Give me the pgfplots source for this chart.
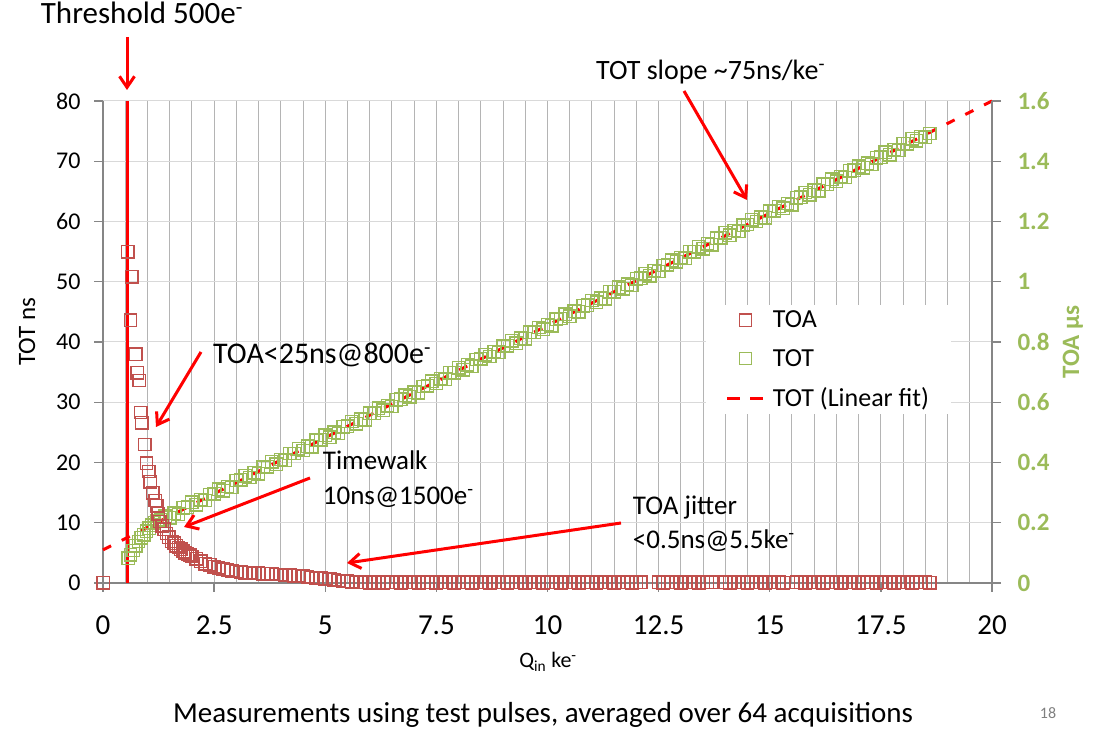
\documentclass[border=0pt]{standalone}
\usepackage{fontspec}
\setmainfont{Carlito}
\usepackage{pgfplots}
\usepackage{pgfplotstable}
\pgfplotsset{compat=1.18}
\usetikzlibrary{arrows.meta}

\definecolor{toared}{HTML}{C0504D}
\definecolor{totgreen}{HTML}{9BBB59}
\definecolor{axgray}{HTML}{868686}
\definecolor{vgrid}{HTML}{B4B4B4}
\definecolor{hgrid}{HTML}{D9D9D9}
\definecolor{fitred}{HTML}{FF0000}
\newcommand{\fs}[2]{\fontsize{#1}{#2}\selectfont}

% TOT in ns (left axis)
\pgfplotstableread{
x y
0 0
0.57 4.1
0.62 4.7
0.68 5.4
0.74 6.2
0.80 6.9
0.86 7.5
0.92 8.0
0.98 8.6
1.04 9.1
1.10 9.6
1.16 10.0
1.22 10.3
1.30 10.5
1.4 11.1
1.5 10.8
1.6 11.6
1.7 11.4
1.8 12.5
1.9 12.6
2.0 13.4
2.1 13.0
2.2 13.8
2.3 13.7
2.4 14.7
2.5 14.8
2.6 15.6
2.7 15.3
2.8 16.0
2.9 15.9
3.0 17.0
3.1 17.1
3.2 17.8
3.3 17.5
3.4 18.3
3.5 18.1
3.6 19.2
3.7 19.3
3.8 20.1
3.9 19.7
4.0 20.5
4.1 20.4
4.2 21.5
4.3 21.5
4.4 22.3
4.5 22.0
4.6 22.7
4.7 22.6
4.8 23.7
4.9 23.8
5.0 24.5
5.1 24.2
5.2 25.0
5.3 24.8
5.4 25.9
5.5 26.0
5.6 26.8
5.7 26.4
5.8 27.2
5.9 27.1
6.0 28.2
6.1 28.2
6.2 29.0
6.3 28.7
6.4 29.4
6.5 29.3
6.6 30.4
6.7 30.5
6.8 31.2
6.9 30.9
7.0 31.7
7.1 31.6
7.2 32.6
7.3 32.7
7.4 33.5
7.5 33.1
7.6 33.9
7.7 33.8
7.8 34.9
7.9 34.9
8.0 35.7
8.1 35.4
8.2 36.2
8.3 36.0
8.4 37.1
8.5 37.2
8.6 37.9
8.7 37.6
8.8 38.4
8.9 38.3
9.0 39.3
9.1 39.4
9.2 40.2
9.3 39.8
9.4 40.6
9.5 40.5
9.6 41.6
9.7 41.6
9.8 42.4
9.9 42.1
10.0 42.9
10.1 42.7
10.2 43.8
10.3 43.9
10.4 44.6
10.5 44.3
10.6 45.1
10.7 45.0
10.8 46.0
10.9 46.1
11.0 46.9
11.1 46.6
11.2 47.3
11.3 47.2
11.4 48.3
11.5 48.3
11.6 49.1
11.7 48.8
11.8 49.6
11.9 49.4
12.0 50.5
12.1 50.6
12.2 51.3
12.3 51.0
12.4 51.8
12.5 51.7
12.6 52.7
12.7 52.8
12.8 53.6
12.9 53.3
13.0 54.0
13.1 53.9
13.2 55.0
13.3 55.0
13.4 55.8
13.5 55.5
13.6 56.3
13.7 56.1
13.8 57.2
13.9 57.3
14.0 58.1
14.1 57.7
14.2 58.5
14.3 58.4
14.4 59.4
14.5 59.5
14.6 60.3
14.7 60.0
14.8 60.7
14.9 60.6
15.0 61.7
15.1 61.8
15.2 62.5
15.3 62.2
15.4 63.0
15.5 62.8
15.6 63.9
15.7 64.0
15.8 64.8
15.9 64.4
16.0 65.2
16.1 65.1
16.2 66.2
16.3 66.2
16.4 67.0
16.5 66.7
16.6 67.4
16.7 67.3
16.8 68.4
16.9 68.5
17.0 69.2
17.1 68.9
17.2 69.7
17.3 69.5
17.4 70.6
17.5 70.7
17.6 71.5
17.7 71.1
17.8 71.9
17.9 71.8
18.0 72.9
18.1 72.9
18.2 73.7
18.3 73.4
18.4 74.1
18.5 74.0
18.6 74.6
}\totdata

% TOA in us (right axis)
\pgfplotstableread{
x y
0 0
0.556 1.100
0.645 1.016
0.62 0.872
0.735 0.760
0.765 0.698
0.81 0.672
0.85 0.566
0.877 0.532
0.94 0.460
0.98 0.398
1.03 0.370
1.06 0.336
1.12 0.300
1.17 0.274
1.21 0.256
1.245 0.230
1.28 0.204
1.33 0.190
1.38 0.178
1.43 0.164
1.48 0.152
1.55 0.138
1.6 0.132
1.65 0.124
1.7 0.118
1.75 0.112
1.8 0.106
1.85 0.100
1.9 0.096
1.95 0.092
2.0 0.088
2.1 0.080
2.2 0.072
2.3 0.064
2.4 0.060
2.5 0.054
2.6 0.050
2.7 0.046
2.8 0.044
2.9 0.040
3.0 0.038
3.1 0.036
3.2 0.034
3.3 0.034
3.4 0.032
3.5 0.032
3.6 0.030
3.7 0.030
3.8 0.030
3.9 0.028
4.0 0.028
4.1 0.026
4.2 0.026
4.3 0.024
4.4 0.024
4.5 0.022
4.6 0.020
4.7 0.018
4.8 0.016
4.9 0.016
5.0 0.014
5.1 0.012
5.2 0.010
5.3 0.008
5.4 0.006
5.5 0.006
5.6 0.004
5.7 0.002
5.8 0.002
5.9 0.002
6.0 0.001
6.1 0.002
6.2 0.002
6.3 0.001
6.4 0.002
6.5 0.002
6.6 0.002
6.7 0.001
6.8 0.002
6.9 0.002
7.0 0.002
7.1 0.001
7.2 0.002
7.3 0.002
7.4 0.002
7.5 0.001
7.6 0.002
7.7 0.002
7.8 0.002
7.9 0.001
8.0 0.002
8.1 0.002
8.2 0.002
8.3 0.001
8.4 0.002
8.5 0.002
8.6 0.002
8.7 0.001
8.8 0.002
8.9 0.002
9.0 0.002
9.1 0.001
9.2 0.002
9.3 0.002
9.4 0.002
9.5 0.001
9.6 0.002
9.7 0.002
9.8 0.002
9.9 0.001
10.0 0.002
10.1 0.002
10.2 0.002
10.3 0.001
10.4 0.002
10.5 0.002
10.6 0.002
10.7 0.001
10.8 0.002
10.9 0.002
11.0 0.002
11.1 0.001
11.2 0.002
11.3 0.002
11.4 0.002
11.5 0.001
11.6 0.002
11.7 0.002
11.8 0.002
11.9 0.001
12.0 0.002
12.1 0.002
12.5 0.002
12.6 0.001
12.7 0.002
12.8 0.002
12.9 0.002
13.0 0.001
13.1 0.002
13.2 0.002
13.3 0.002
13.4 0.001
13.5 0.002
13.6 0.002
13.7 0.002
14.0 0.002
14.1 0.001
14.2 0.002
14.3 0.002
14.4 0.002
14.5 0.001
14.6 0.002
14.7 0.002
14.8 0.002
14.9 0.001
15.0 0.002
15.1 0.002
15.2 0.002
15.3 0.001
15.6 0.002
15.7 0.002
15.8 0.001
15.9 0.002
16.0 0.002
16.1 0.002
16.2 0.001
16.3 0.002
16.4 0.002
16.5 0.002
16.6 0.001
16.7 0.002
16.8 0.002
16.9 0.002
17.0 0.001
17.1 0.002
17.2 0.002
17.3 0.002
17.4 0.001
17.5 0.002
17.6 0.002
17.7 0.002
17.8 0.001
17.9 0.002
18.0 0.002
18.1 0.002
18.2 0.001
18.3 0.002
18.4 0.002
18.5 0.002
18.6 0.001
}\toadata

\begin{document}
\begin{tikzpicture}
\path[use as bounding box] (0,0) rectangle (1099pt,735pt);

% left axis: TOT (ns)
\begin{axis}[
  at={(103pt,152pt)}, anchor=south west,
  scale only axis, width=889pt, height=482pt,
  xmin=0, xmax=20, ymin=0, ymax=80,
  axis x line*=bottom, axis y line*=left,
  axis line style={axgray, line width=1.3pt},
  xtick={0,2.5,5,7.5,10,12.5,15,17.5,20},
  minor xtick={0.5,1,...,19.5},
  ytick={0,10,...,80},
  xminorgrids, ymajorgrids,
  minor grid style={vgrid, line width=1pt},
  major grid style={hgrid, line width=1pt},
  tick align=outside, major tick length=9pt, minor tick length=0pt,
  tick style={axgray, line width=1.3pt},
  /pgf/number format/assume math mode=true,
  /pgf/number format/fixed,
  yticklabel style={font=\fs{24}{28}, text=black, xshift=-10pt},
  xticklabel style={font=\fs{29}{33}, text=black, yshift=-20pt},
  xlabel={Q\textsubscript{in} ke\textsuperscript{-}},
  xlabel style={at={(axis description cs:0.5006,-0.164)}, anchor=center, font=\fs{22}{26}},
  ylabel={TOT ns},
  ylabel style={at={(axis description cs:-0.0855,0.521)}, anchor=center, font=\fs{25}{30}},
  clip=false,
]
  \addplot[fitred, line width=3pt, dash pattern=on 9pt off 12pt, forget plot]
    coordinates {(0,5.5) (20,80)};
  \addplot[only marks, mark=square, mark size=6.2pt,
    mark options={totgreen, line width=1.4pt}, forget plot] table {\totdata};
  \addplot[fitred, line width=3pt, forget plot] coordinates {(0.55,0) (0.55,80)};
\end{axis}

% right axis: TOA (us)
\begin{axis}[
  at={(103pt,152pt)}, anchor=south west,
  scale only axis, width=889pt, height=482pt,
  xmin=0, xmax=20, ymin=0, ymax=1.6,
  axis x line=none, axis y line*=right,
  axis line style={axgray, line width=1.3pt},
  ytick={0,0.2,0.4,0.6,0.8,1,1.2,1.4,1.6},
  tick align=outside, major tick length=9pt,
  tick style={axgray, line width=1.3pt},
  /pgf/number format/assume math mode=true,
  /pgf/number format/fixed,
  yticklabel style={font=\bfseries\fs{25}{30}, text=totgreen, xshift=13pt},
  ylabel={TOA µs},
  ylabel style={at={(axis description cs:1.0911,0.5)}, anchor=center, rotate=0, font=\bfseries\fs{25}{30}, text=totgreen},
  clip=false,
  legend cell align=left,
  legend image code/.code={\draw[mark repeat=2,mark phase=2,#1] plot coordinates {(0pt,0pt) (18pt,0pt) (36pt,0pt)};},
  legend style={at={(0.678,0.577)}, anchor=north west, draw=none, fill=white,
    font=\fs{26}{30}, row sep=16pt, inner xsep=20pt, inner ysep=4pt,
    /tikz/every odd column/.append style={column sep=6pt}},
]
  \addplot[only marks, mark=square, mark size=6.2pt,
    mark options={toared, line width=1.4pt}] table {\toadata};
  \addlegendentry{TOA}
  \addlegendimage{only marks, mark=square, mark size=6pt, mark options={totgreen, line width=1.4pt}}
  \addlegendentry{TOT}
  \addlegendimage{fitred, line width=3pt, dash pattern=on 13pt off 10pt}
  \addlegendentry{TOT (Linear fit)}
\end{axis}

% annotations (page coordinates in pt, origin bottom left)
\begin{scope}[x=1pt, y=1pt, every node/.style={inner sep=0pt, anchor=base west}]
  \draw[fitred, line width=3pt, -{Straight Barb[length=11pt,width=15pt]}] (127,698) -- (127,645);
  \draw[fitred, line width=3pt, -{Straight Barb[length=11pt,width=15pt]}] (201,383) -- (156,308);
  \draw[fitred, line width=3pt, -{Straight Barb[length=11pt,width=15pt]}] (310,257) -- (184,208);
  \draw[fitred, line width=3pt, -{Straight Barb[length=11pt,width=15pt]}] (621,212) -- (347,172);
  \draw[fitred, line width=3pt, -{Straight Barb[length=11pt,width=15pt]}] (684,644) -- (747,535);
  \node[font=\fs{31}{36}] at (40.7,711) {Threshold 500e\textsuperscript{-}};
  \node[font=\fs{28}{32}] at (596,655.7) {TOT slope \textasciitilde75ns/ke\textsuperscript{-}};
  \node[font=\fs{30}{34}] at (213,371) {TOA<25ns@800e\textsuperscript{-}};
  \node[font=\fs{27}{32}] at (322.7,265) {Timewalk};
  \node[font=\fs{27}{32}] at (322.7,230) {10ns@1500e\textsuperscript{-}};
  \node[font=\fs{27}{32}] at (632.7,220) {TOA jitter};
  \node[font=\fs{27}{32}] at (632.7,186.7) {<0.5ns@5.5ke\textsuperscript{-}};
  \node[font=\fs{29}{33}, anchor=base] at (543,12.3) {Measurements using test pulses, averaged over 64 acquisitions};
  \node[font=\fs{16}{20}, text=gray, anchor=base] at (1048,16) {18};
\end{scope}
\end{tikzpicture}
\end{document}
